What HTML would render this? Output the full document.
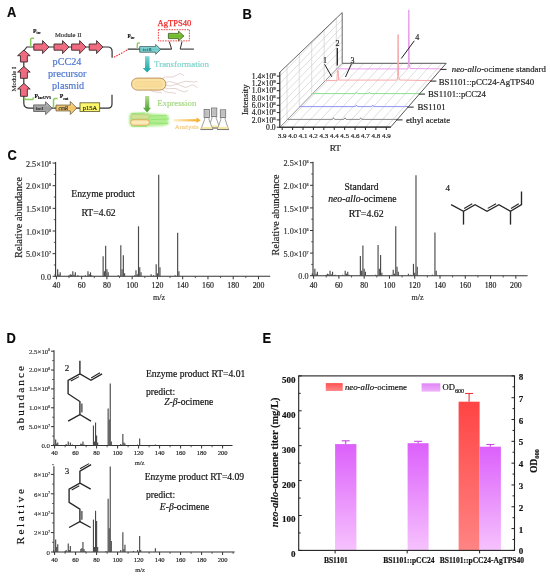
<!DOCTYPE html>
<html><head><meta charset="utf-8"><title>Figure</title>
<style>html,body{margin:0;padding:0;background:#fff;}svg{display:block;}</style>
</head><body>
<svg width="550" height="579" viewBox="0 0 550 579">
<text transform="translate(7.0,17.1) scale(0.9,1)" font-size="14.3" font-weight="bold" fill="#0a0a0a" font-family='"Liberation Sans", Arial, sans-serif' stroke="#0a0a0a" stroke-width="0.18">A</text>
<text transform="translate(242.6,19.4) scale(0.9,1)" font-size="14.3" font-weight="bold" fill="#0a0a0a" font-family='"Liberation Sans", Arial, sans-serif' stroke="#0a0a0a" stroke-width="0.18">B</text>
<text transform="translate(7.6,159.9) scale(0.9,1)" font-size="14.3" font-weight="bold" fill="#0a0a0a" font-family='"Liberation Sans", Arial, sans-serif' stroke="#0a0a0a" stroke-width="0.18">C</text>
<text transform="translate(6.4,342.9) scale(0.9,1)" font-size="14.3" font-weight="bold" fill="#0a0a0a" font-family='"Liberation Sans", Arial, sans-serif' stroke="#0a0a0a" stroke-width="0.18">D</text>
<text transform="translate(262.5,343.1) scale(0.9,1)" font-size="14.3" font-weight="bold" fill="#0a0a0a" font-family='"Liberation Sans", Arial, sans-serif' stroke="#0a0a0a" stroke-width="0.18">E</text>
<line x1="55.6" y1="162" x2="55.6" y2="276.8" stroke="#333" stroke-width="1.1" />
<line x1="55.6" y1="276.3" x2="270.2" y2="276.3" stroke="#333" stroke-width="1.1" />
<line x1="52.6" y1="276.3" x2="55.6" y2="276.3" stroke="#333" stroke-width="1" />
<line x1="53.8" y1="264.98" x2="55.6" y2="264.98" stroke="#333" stroke-width="0.8" />
<line x1="52.6" y1="253.65" x2="55.6" y2="253.65" stroke="#333" stroke-width="1" />
<line x1="53.8" y1="242.33" x2="55.6" y2="242.33" stroke="#333" stroke-width="0.8" />
<line x1="52.6" y1="231" x2="55.6" y2="231" stroke="#333" stroke-width="1" />
<line x1="53.8" y1="219.68" x2="55.6" y2="219.68" stroke="#333" stroke-width="0.8" />
<line x1="52.6" y1="208.35" x2="55.6" y2="208.35" stroke="#333" stroke-width="1" />
<line x1="53.8" y1="197.03" x2="55.6" y2="197.03" stroke="#333" stroke-width="0.8" />
<line x1="52.6" y1="185.7" x2="55.6" y2="185.7" stroke="#333" stroke-width="1" />
<line x1="53.8" y1="174.38" x2="55.6" y2="174.38" stroke="#333" stroke-width="0.8" />
<line x1="52.6" y1="163.05" x2="55.6" y2="163.05" stroke="#333" stroke-width="1" />
<line x1="56.4" y1="276.3" x2="56.4" y2="279.3" stroke="#333" stroke-width="1" />
<text x="56.4" y="287.8" font-size="7.8" fill="#222" stroke="#222" stroke-width="0.18" text-anchor="middle" font-weight="normal" font-style="normal" font-family='"Liberation Serif", "Times New Roman", serif' >40</text>
<line x1="69.03" y1="276.3" x2="69.03" y2="278.1" stroke="#333" stroke-width="0.8" />
<line x1="81.66" y1="276.3" x2="81.66" y2="279.3" stroke="#333" stroke-width="1" />
<text x="81.66" y="287.8" font-size="7.8" fill="#222" stroke="#222" stroke-width="0.18" text-anchor="middle" font-weight="normal" font-style="normal" font-family='"Liberation Serif", "Times New Roman", serif' >60</text>
<line x1="94.29" y1="276.3" x2="94.29" y2="278.1" stroke="#333" stroke-width="0.8" />
<line x1="106.92" y1="276.3" x2="106.92" y2="279.3" stroke="#333" stroke-width="1" />
<text x="106.92" y="287.8" font-size="7.8" fill="#222" stroke="#222" stroke-width="0.18" text-anchor="middle" font-weight="normal" font-style="normal" font-family='"Liberation Serif", "Times New Roman", serif' >80</text>
<line x1="119.55" y1="276.3" x2="119.55" y2="278.1" stroke="#333" stroke-width="0.8" />
<line x1="132.18" y1="276.3" x2="132.18" y2="279.3" stroke="#333" stroke-width="1" />
<text x="132.18" y="287.8" font-size="7.8" fill="#222" stroke="#222" stroke-width="0.18" text-anchor="middle" font-weight="normal" font-style="normal" font-family='"Liberation Serif", "Times New Roman", serif' >100</text>
<line x1="144.81" y1="276.3" x2="144.81" y2="278.1" stroke="#333" stroke-width="0.8" />
<line x1="157.44" y1="276.3" x2="157.44" y2="279.3" stroke="#333" stroke-width="1" />
<text x="157.44" y="287.8" font-size="7.8" fill="#222" stroke="#222" stroke-width="0.18" text-anchor="middle" font-weight="normal" font-style="normal" font-family='"Liberation Serif", "Times New Roman", serif' >120</text>
<line x1="170.07" y1="276.3" x2="170.07" y2="278.1" stroke="#333" stroke-width="0.8" />
<line x1="182.7" y1="276.3" x2="182.7" y2="279.3" stroke="#333" stroke-width="1" />
<text x="182.7" y="287.8" font-size="7.8" fill="#222" stroke="#222" stroke-width="0.18" text-anchor="middle" font-weight="normal" font-style="normal" font-family='"Liberation Serif", "Times New Roman", serif' >140</text>
<line x1="195.33" y1="276.3" x2="195.33" y2="278.1" stroke="#333" stroke-width="0.8" />
<line x1="207.96" y1="276.3" x2="207.96" y2="279.3" stroke="#333" stroke-width="1" />
<text x="207.96" y="287.8" font-size="7.8" fill="#222" stroke="#222" stroke-width="0.18" text-anchor="middle" font-weight="normal" font-style="normal" font-family='"Liberation Serif", "Times New Roman", serif' >160</text>
<line x1="220.59" y1="276.3" x2="220.59" y2="278.1" stroke="#333" stroke-width="0.8" />
<line x1="233.22" y1="276.3" x2="233.22" y2="279.3" stroke="#333" stroke-width="1" />
<text x="233.22" y="287.8" font-size="7.8" fill="#222" stroke="#222" stroke-width="0.18" text-anchor="middle" font-weight="normal" font-style="normal" font-family='"Liberation Serif", "Times New Roman", serif' >180</text>
<line x1="245.85" y1="276.3" x2="245.85" y2="278.1" stroke="#333" stroke-width="0.8" />
<line x1="258.48" y1="276.3" x2="258.48" y2="279.3" stroke="#333" stroke-width="1" />
<text x="258.48" y="287.8" font-size="7.8" fill="#222" stroke="#222" stroke-width="0.18" text-anchor="middle" font-weight="normal" font-style="normal" font-family='"Liberation Serif", "Times New Roman", serif' >200</text>
<text x="159" y="299.8" font-size="8" fill="#333" stroke="#333" stroke-width="0.18" text-anchor="middle" font-weight="normal" font-style="normal" font-family='"Liberation Serif", "Times New Roman", serif' >m/z</text>
<line x1="55.14" y1="276.3" x2="55.14" y2="273.8" stroke="#4a4a4a" stroke-width="1.15" />
<line x1="57.66" y1="276.3" x2="57.66" y2="269.3" stroke="#4a4a4a" stroke-width="1.15" />
<line x1="58.93" y1="276.3" x2="58.93" y2="274.3" stroke="#4a4a4a" stroke-width="1.15" />
<line x1="60.19" y1="276.3" x2="60.19" y2="272.3" stroke="#4a4a4a" stroke-width="1.15" />
<line x1="69.03" y1="276.3" x2="69.03" y2="275.3" stroke="#4a4a4a" stroke-width="1.15" />
<line x1="70.29" y1="276.3" x2="70.29" y2="274.3" stroke="#4a4a4a" stroke-width="1.15" />
<line x1="71.56" y1="276.3" x2="71.56" y2="274.8" stroke="#4a4a4a" stroke-width="1.15" />
<line x1="72.82" y1="276.3" x2="72.82" y2="271.3" stroke="#4a4a4a" stroke-width="1.15" />
<line x1="74.08" y1="276.3" x2="74.08" y2="274.8" stroke="#4a4a4a" stroke-width="1.15" />
<line x1="75.34" y1="276.3" x2="75.34" y2="272.3" stroke="#4a4a4a" stroke-width="1.15" />
<line x1="77.87" y1="276.3" x2="77.87" y2="275.3" stroke="#4a4a4a" stroke-width="1.15" />
<line x1="85.45" y1="276.3" x2="85.45" y2="275.3" stroke="#4a4a4a" stroke-width="1.15" />
<line x1="87.97" y1="276.3" x2="87.97" y2="271.3" stroke="#4a4a4a" stroke-width="1.15" />
<line x1="89.24" y1="276.3" x2="89.24" y2="274.3" stroke="#4a4a4a" stroke-width="1.15" />
<line x1="90.5" y1="276.3" x2="90.5" y2="272.3" stroke="#4a4a4a" stroke-width="1.15" />
<line x1="91.76" y1="276.3" x2="91.76" y2="275.3" stroke="#4a4a4a" stroke-width="1.15" />
<line x1="103.13" y1="276.3" x2="103.13" y2="256.3" stroke="#4a4a4a" stroke-width="1.15" />
<line x1="104.39" y1="276.3" x2="104.39" y2="271.3" stroke="#4a4a4a" stroke-width="1.15" />
<line x1="105.66" y1="276.3" x2="105.66" y2="245.8" stroke="#4a4a4a" stroke-width="1.15" />
<line x1="106.92" y1="276.3" x2="106.92" y2="269.3" stroke="#4a4a4a" stroke-width="1.15" />
<line x1="108.18" y1="276.3" x2="108.18" y2="272.3" stroke="#4a4a4a" stroke-width="1.15" />
<line x1="118.29" y1="276.3" x2="118.29" y2="275.3" stroke="#4a4a4a" stroke-width="1.15" />
<line x1="120.81" y1="276.3" x2="120.81" y2="245.3" stroke="#4a4a4a" stroke-width="1.15" />
<line x1="122.08" y1="276.3" x2="122.08" y2="269.3" stroke="#4a4a4a" stroke-width="1.15" />
<line x1="123.34" y1="276.3" x2="123.34" y2="255.3" stroke="#4a4a4a" stroke-width="1.15" />
<line x1="124.6" y1="276.3" x2="124.6" y2="273.3" stroke="#4a4a4a" stroke-width="1.15" />
<line x1="134.71" y1="276.3" x2="134.71" y2="275.3" stroke="#4a4a4a" stroke-width="1.15" />
<line x1="135.97" y1="276.3" x2="135.97" y2="270.3" stroke="#4a4a4a" stroke-width="1.15" />
<line x1="137.23" y1="276.3" x2="137.23" y2="274.3" stroke="#4a4a4a" stroke-width="1.15" />
<line x1="138.5" y1="276.3" x2="138.5" y2="226.3" stroke="#4a4a4a" stroke-width="1.15" />
<line x1="139.76" y1="276.3" x2="139.76" y2="267.3" stroke="#4a4a4a" stroke-width="1.15" />
<line x1="141.02" y1="276.3" x2="141.02" y2="272.3" stroke="#4a4a4a" stroke-width="1.15" />
<line x1="151.12" y1="276.3" x2="151.12" y2="274.3" stroke="#4a4a4a" stroke-width="1.15" />
<line x1="153.65" y1="276.3" x2="153.65" y2="275.3" stroke="#4a4a4a" stroke-width="1.15" />
<line x1="156.18" y1="276.3" x2="156.18" y2="264.3" stroke="#4a4a4a" stroke-width="1.15" />
<line x1="157.44" y1="276.3" x2="157.44" y2="273.3" stroke="#4a4a4a" stroke-width="1.15" />
<line x1="158.7" y1="276.3" x2="158.7" y2="174.8" stroke="#4a4a4a" stroke-width="1.15" />
<line x1="159.97" y1="276.3" x2="159.97" y2="267.3" stroke="#4a4a4a" stroke-width="1.15" />
<line x1="175.12" y1="276.3" x2="175.12" y2="275.3" stroke="#4a4a4a" stroke-width="1.15" />
<line x1="177.65" y1="276.3" x2="177.65" y2="232.7" stroke="#4a4a4a" stroke-width="1.15" />
<line x1="178.91" y1="276.3" x2="178.91" y2="271.3" stroke="#4a4a4a" stroke-width="1.15" />
<text x="51" y="280" font-size="8.2" fill="#333" stroke="#333" stroke-width="0.18" text-anchor="end" font-weight="normal" font-style="normal" font-family='"Liberation Serif", "Times New Roman", serif' >0.0</text>
<text x="51" y="257.35" font-size="8.2" fill="#333" text-anchor="end" font-family='"Liberation Serif", "Times New Roman", serif' stroke="#333" stroke-width="0.18">5.0×10<tspan font-size="4.10" dy="-2.95">7</tspan></text>
<text x="51" y="234.7" font-size="8.2" fill="#333" text-anchor="end" font-family='"Liberation Serif", "Times New Roman", serif' stroke="#333" stroke-width="0.18">1.0×10<tspan font-size="4.10" dy="-2.95">8</tspan></text>
<text x="51" y="212.05" font-size="8.2" fill="#333" text-anchor="end" font-family='"Liberation Serif", "Times New Roman", serif' stroke="#333" stroke-width="0.18">1.5×10<tspan font-size="4.10" dy="-2.95">8</tspan></text>
<text x="51" y="189.4" font-size="8.2" fill="#333" text-anchor="end" font-family='"Liberation Serif", "Times New Roman", serif' stroke="#333" stroke-width="0.18">2.0×10<tspan font-size="4.10" dy="-2.95">8</tspan></text>
<text x="51" y="166.75" font-size="8.2" fill="#333" text-anchor="end" font-family='"Liberation Serif", "Times New Roman", serif' stroke="#333" stroke-width="0.18">2.5×10<tspan font-size="4.10" dy="-2.95">8</tspan></text>
<text x="0" y="0" font-size="10.3" fill="#222" stroke="#222" stroke-width="0.18" text-anchor="middle" font-weight="normal" font-style="normal" font-family='"Liberation Serif", "Times New Roman", serif' transform="translate(22.2,217.5) rotate(-90)">Relative  abundance</text>
<text x="71.3" y="196.6" font-size="9.7" fill="#111" stroke="#111" stroke-width="0.18" text-anchor="start" font-weight="normal" font-style="normal" font-family='"Liberation Serif", "Times New Roman", serif' >Enzyme product</text>
<text x="81.4" y="215.6" font-size="9.7" fill="#111" stroke="#111" stroke-width="0.18" text-anchor="start" font-weight="normal" font-style="normal" font-family='"Liberation Serif", "Times New Roman", serif' >RT=4.62</text>
<line x1="313" y1="161.7" x2="313" y2="276.2" stroke="#333" stroke-width="1.1" />
<line x1="313" y1="275.7" x2="527.6" y2="275.7" stroke="#333" stroke-width="1.1" />
<line x1="310" y1="275.7" x2="313" y2="275.7" stroke="#333" stroke-width="1" />
<line x1="311.2" y1="264.4" x2="313" y2="264.4" stroke="#333" stroke-width="0.8" />
<line x1="310" y1="253.1" x2="313" y2="253.1" stroke="#333" stroke-width="1" />
<line x1="311.2" y1="241.8" x2="313" y2="241.8" stroke="#333" stroke-width="0.8" />
<line x1="310" y1="230.5" x2="313" y2="230.5" stroke="#333" stroke-width="1" />
<line x1="311.2" y1="219.2" x2="313" y2="219.2" stroke="#333" stroke-width="0.8" />
<line x1="310" y1="207.9" x2="313" y2="207.9" stroke="#333" stroke-width="1" />
<line x1="311.2" y1="196.6" x2="313" y2="196.6" stroke="#333" stroke-width="0.8" />
<line x1="310" y1="185.3" x2="313" y2="185.3" stroke="#333" stroke-width="1" />
<line x1="311.2" y1="174" x2="313" y2="174" stroke="#333" stroke-width="0.8" />
<line x1="310" y1="162.7" x2="313" y2="162.7" stroke="#333" stroke-width="1" />
<line x1="313.6" y1="275.7" x2="313.6" y2="278.7" stroke="#333" stroke-width="1" />
<text x="313.6" y="287.6" font-size="7.8" fill="#222" stroke="#222" stroke-width="0.18" text-anchor="middle" font-weight="normal" font-style="normal" font-family='"Liberation Serif", "Times New Roman", serif' >40</text>
<line x1="326.24" y1="275.7" x2="326.24" y2="277.5" stroke="#333" stroke-width="0.8" />
<line x1="338.88" y1="275.7" x2="338.88" y2="278.7" stroke="#333" stroke-width="1" />
<text x="338.88" y="287.6" font-size="7.8" fill="#222" stroke="#222" stroke-width="0.18" text-anchor="middle" font-weight="normal" font-style="normal" font-family='"Liberation Serif", "Times New Roman", serif' >60</text>
<line x1="351.52" y1="275.7" x2="351.52" y2="277.5" stroke="#333" stroke-width="0.8" />
<line x1="364.16" y1="275.7" x2="364.16" y2="278.7" stroke="#333" stroke-width="1" />
<text x="364.16" y="287.6" font-size="7.8" fill="#222" stroke="#222" stroke-width="0.18" text-anchor="middle" font-weight="normal" font-style="normal" font-family='"Liberation Serif", "Times New Roman", serif' >80</text>
<line x1="376.8" y1="275.7" x2="376.8" y2="277.5" stroke="#333" stroke-width="0.8" />
<line x1="389.44" y1="275.7" x2="389.44" y2="278.7" stroke="#333" stroke-width="1" />
<text x="389.44" y="287.6" font-size="7.8" fill="#222" stroke="#222" stroke-width="0.18" text-anchor="middle" font-weight="normal" font-style="normal" font-family='"Liberation Serif", "Times New Roman", serif' >100</text>
<line x1="402.08" y1="275.7" x2="402.08" y2="277.5" stroke="#333" stroke-width="0.8" />
<line x1="414.72" y1="275.7" x2="414.72" y2="278.7" stroke="#333" stroke-width="1" />
<text x="414.72" y="287.6" font-size="7.8" fill="#222" stroke="#222" stroke-width="0.18" text-anchor="middle" font-weight="normal" font-style="normal" font-family='"Liberation Serif", "Times New Roman", serif' >120</text>
<line x1="427.36" y1="275.7" x2="427.36" y2="277.5" stroke="#333" stroke-width="0.8" />
<line x1="440" y1="275.7" x2="440" y2="278.7" stroke="#333" stroke-width="1" />
<text x="440" y="287.6" font-size="7.8" fill="#222" stroke="#222" stroke-width="0.18" text-anchor="middle" font-weight="normal" font-style="normal" font-family='"Liberation Serif", "Times New Roman", serif' >140</text>
<line x1="452.64" y1="275.7" x2="452.64" y2="277.5" stroke="#333" stroke-width="0.8" />
<line x1="465.28" y1="275.7" x2="465.28" y2="278.7" stroke="#333" stroke-width="1" />
<text x="465.28" y="287.6" font-size="7.8" fill="#222" stroke="#222" stroke-width="0.18" text-anchor="middle" font-weight="normal" font-style="normal" font-family='"Liberation Serif", "Times New Roman", serif' >160</text>
<line x1="477.92" y1="275.7" x2="477.92" y2="277.5" stroke="#333" stroke-width="0.8" />
<line x1="490.56" y1="275.7" x2="490.56" y2="278.7" stroke="#333" stroke-width="1" />
<text x="490.56" y="287.6" font-size="7.8" fill="#222" stroke="#222" stroke-width="0.18" text-anchor="middle" font-weight="normal" font-style="normal" font-family='"Liberation Serif", "Times New Roman", serif' >180</text>
<line x1="503.2" y1="275.7" x2="503.2" y2="277.5" stroke="#333" stroke-width="0.8" />
<line x1="515.84" y1="275.7" x2="515.84" y2="278.7" stroke="#333" stroke-width="1" />
<text x="515.84" y="287.6" font-size="7.8" fill="#222" stroke="#222" stroke-width="0.18" text-anchor="middle" font-weight="normal" font-style="normal" font-family='"Liberation Serif", "Times New Roman", serif' >200</text>
<text x="417.5" y="299.6" font-size="8" fill="#333" stroke="#333" stroke-width="0.18" text-anchor="middle" font-weight="normal" font-style="normal" font-family='"Liberation Serif", "Times New Roman", serif' >m/z</text>
<line x1="312.34" y1="275.7" x2="312.34" y2="273.22" stroke="#4a4a4a" stroke-width="1.15" />
<line x1="314.86" y1="275.7" x2="314.86" y2="268.77" stroke="#4a4a4a" stroke-width="1.15" />
<line x1="316.13" y1="275.7" x2="316.13" y2="273.72" stroke="#4a4a4a" stroke-width="1.15" />
<line x1="317.39" y1="275.7" x2="317.39" y2="271.74" stroke="#4a4a4a" stroke-width="1.15" />
<line x1="326.24" y1="275.7" x2="326.24" y2="274.71" stroke="#4a4a4a" stroke-width="1.15" />
<line x1="327.5" y1="275.7" x2="327.5" y2="273.72" stroke="#4a4a4a" stroke-width="1.15" />
<line x1="328.77" y1="275.7" x2="328.77" y2="274.21" stroke="#4a4a4a" stroke-width="1.15" />
<line x1="330.03" y1="275.7" x2="330.03" y2="270.75" stroke="#4a4a4a" stroke-width="1.15" />
<line x1="331.3" y1="275.7" x2="331.3" y2="274.21" stroke="#4a4a4a" stroke-width="1.15" />
<line x1="332.56" y1="275.7" x2="332.56" y2="271.74" stroke="#4a4a4a" stroke-width="1.15" />
<line x1="335.09" y1="275.7" x2="335.09" y2="274.71" stroke="#4a4a4a" stroke-width="1.15" />
<line x1="342.67" y1="275.7" x2="342.67" y2="274.71" stroke="#4a4a4a" stroke-width="1.15" />
<line x1="345.2" y1="275.7" x2="345.2" y2="270.75" stroke="#4a4a4a" stroke-width="1.15" />
<line x1="346.46" y1="275.7" x2="346.46" y2="273.72" stroke="#4a4a4a" stroke-width="1.15" />
<line x1="347.73" y1="275.7" x2="347.73" y2="271.74" stroke="#4a4a4a" stroke-width="1.15" />
<line x1="348.99" y1="275.7" x2="348.99" y2="274.71" stroke="#4a4a4a" stroke-width="1.15" />
<line x1="360.37" y1="275.7" x2="360.37" y2="255.9" stroke="#4a4a4a" stroke-width="1.15" />
<line x1="361.63" y1="275.7" x2="361.63" y2="270.75" stroke="#4a4a4a" stroke-width="1.15" />
<line x1="362.9" y1="275.7" x2="362.9" y2="245.5" stroke="#4a4a4a" stroke-width="1.15" />
<line x1="364.16" y1="275.7" x2="364.16" y2="268.77" stroke="#4a4a4a" stroke-width="1.15" />
<line x1="365.42" y1="275.7" x2="365.42" y2="271.74" stroke="#4a4a4a" stroke-width="1.15" />
<line x1="375.54" y1="275.7" x2="375.54" y2="274.71" stroke="#4a4a4a" stroke-width="1.15" />
<line x1="378.06" y1="275.7" x2="378.06" y2="245.01" stroke="#4a4a4a" stroke-width="1.15" />
<line x1="379.33" y1="275.7" x2="379.33" y2="268.77" stroke="#4a4a4a" stroke-width="1.15" />
<line x1="380.59" y1="275.7" x2="380.59" y2="254.91" stroke="#4a4a4a" stroke-width="1.15" />
<line x1="381.86" y1="275.7" x2="381.86" y2="272.73" stroke="#4a4a4a" stroke-width="1.15" />
<line x1="391.97" y1="275.7" x2="391.97" y2="274.71" stroke="#4a4a4a" stroke-width="1.15" />
<line x1="393.23" y1="275.7" x2="393.23" y2="269.76" stroke="#4a4a4a" stroke-width="1.15" />
<line x1="394.5" y1="275.7" x2="394.5" y2="273.72" stroke="#4a4a4a" stroke-width="1.15" />
<line x1="395.76" y1="275.7" x2="395.76" y2="226.2" stroke="#4a4a4a" stroke-width="1.15" />
<line x1="397.02" y1="275.7" x2="397.02" y2="266.79" stroke="#4a4a4a" stroke-width="1.15" />
<line x1="398.29" y1="275.7" x2="398.29" y2="271.74" stroke="#4a4a4a" stroke-width="1.15" />
<line x1="408.4" y1="275.7" x2="408.4" y2="273.72" stroke="#4a4a4a" stroke-width="1.15" />
<line x1="410.93" y1="275.7" x2="410.93" y2="274.71" stroke="#4a4a4a" stroke-width="1.15" />
<line x1="413.46" y1="275.7" x2="413.46" y2="263.82" stroke="#4a4a4a" stroke-width="1.15" />
<line x1="414.72" y1="275.7" x2="414.72" y2="272.73" stroke="#4a4a4a" stroke-width="1.15" />
<line x1="415.98" y1="275.7" x2="415.98" y2="175.21" stroke="#4a4a4a" stroke-width="1.15" />
<line x1="417.25" y1="275.7" x2="417.25" y2="266.79" stroke="#4a4a4a" stroke-width="1.15" />
<line x1="432.42" y1="275.7" x2="432.42" y2="274.71" stroke="#4a4a4a" stroke-width="1.15" />
<line x1="434.94" y1="275.7" x2="434.94" y2="232.54" stroke="#4a4a4a" stroke-width="1.15" />
<line x1="436.21" y1="275.7" x2="436.21" y2="270.75" stroke="#4a4a4a" stroke-width="1.15" />
<text x="308.6" y="279.4" font-size="8.2" fill="#333" stroke="#333" stroke-width="0.18" text-anchor="end" font-weight="normal" font-style="normal" font-family='"Liberation Serif", "Times New Roman", serif' >0.0</text>
<text x="308.6" y="256.8" font-size="8.2" fill="#333" text-anchor="end" font-family='"Liberation Serif", "Times New Roman", serif' stroke="#333" stroke-width="0.18">5.0×10<tspan font-size="4.10" dy="-2.95">7</tspan></text>
<text x="308.6" y="234.2" font-size="8.2" fill="#333" text-anchor="end" font-family='"Liberation Serif", "Times New Roman", serif' stroke="#333" stroke-width="0.18">1.0×10<tspan font-size="4.10" dy="-2.95">8</tspan></text>
<text x="308.6" y="211.6" font-size="8.2" fill="#333" text-anchor="end" font-family='"Liberation Serif", "Times New Roman", serif' stroke="#333" stroke-width="0.18">1.5×10<tspan font-size="4.10" dy="-2.95">8</tspan></text>
<text x="308.6" y="189" font-size="8.2" fill="#333" text-anchor="end" font-family='"Liberation Serif", "Times New Roman", serif' stroke="#333" stroke-width="0.18">2.0×10<tspan font-size="4.10" dy="-2.95">8</tspan></text>
<text x="308.6" y="166.4" font-size="8.2" fill="#333" text-anchor="end" font-family='"Liberation Serif", "Times New Roman", serif' stroke="#333" stroke-width="0.18">2.5×10<tspan font-size="4.10" dy="-2.95">8</tspan></text>
<text x="0" y="0" font-size="10.3" fill="#222" stroke="#222" stroke-width="0.18" text-anchor="middle" font-weight="normal" font-style="normal" font-family='"Liberation Serif", "Times New Roman", serif' transform="translate(279.3,215) rotate(-90)">Relative  abundance</text>
<text x="361.5" y="189.6" font-size="9.6" fill="#111" stroke="#111" stroke-width="0.18" text-anchor="middle" font-weight="normal" font-style="normal" font-family='"Liberation Serif", "Times New Roman", serif' >Standard</text>
<text x="362.4" y="202.1" font-size="9.7" fill="#111" text-anchor="middle" font-family='"Liberation Serif", "Times New Roman", serif' stroke="#111" stroke-width="0.18"><tspan font-style="italic">neo-allo</tspan>-ocimene</text>
<text x="366.3" y="216.6" font-size="9.9" fill="#111" stroke="#111" stroke-width="0.18" text-anchor="middle" font-weight="normal" font-style="normal" font-family='"Liberation Serif", "Times New Roman", serif' >RT=4.62</text>
<text x="445.4" y="190.9" font-size="9" fill="#222" stroke="#222" stroke-width="0.18" text-anchor="start" font-weight="normal" font-style="normal" font-family='"Liberation Serif", "Times New Roman", serif' >4</text>
<polyline points="451.1,204.7 463.5,211.3 475.1,204.7 487,211.3 498.9,204.7 510.5,211.3 521.5,204.7 521.5,191.4" fill="none" stroke="#262626" stroke-width="1.35" />
<line x1="463.5" y1="211.3" x2="463.5" y2="224.6" stroke="#262626" stroke-width="1.35" />
<line x1="510.5" y1="211.3" x2="510.5" y2="224.6" stroke="#262626" stroke-width="1.35" />
<line x1="464.15" y1="208.4" x2="472.27" y2="203.78" stroke="#262626" stroke-width="1.1" />
<line x1="487.72" y1="208.39" x2="496.05" y2="203.77" stroke="#262626" stroke-width="1.1" />
<line x1="511.02" y1="208.42" x2="518.72" y2="203.8" stroke="#262626" stroke-width="1.1" />
<line x1="54" y1="350.3" x2="54" y2="446" stroke="#333" stroke-width="1.1" />
<line x1="54" y1="445.5" x2="232.5" y2="445.5" stroke="#333" stroke-width="1.1" />
<line x1="51" y1="445.5" x2="54" y2="445.5" stroke="#333" stroke-width="1" />
<line x1="52.2" y1="436.07" x2="54" y2="436.07" stroke="#333" stroke-width="0.8" />
<line x1="51" y1="426.64" x2="54" y2="426.64" stroke="#333" stroke-width="1" />
<line x1="52.2" y1="417.21" x2="54" y2="417.21" stroke="#333" stroke-width="0.8" />
<line x1="51" y1="407.78" x2="54" y2="407.78" stroke="#333" stroke-width="1" />
<line x1="52.2" y1="398.35" x2="54" y2="398.35" stroke="#333" stroke-width="0.8" />
<line x1="51" y1="388.92" x2="54" y2="388.92" stroke="#333" stroke-width="1" />
<line x1="52.2" y1="379.49" x2="54" y2="379.49" stroke="#333" stroke-width="0.8" />
<line x1="51" y1="370.06" x2="54" y2="370.06" stroke="#333" stroke-width="1" />
<line x1="52.2" y1="360.63" x2="54" y2="360.63" stroke="#333" stroke-width="0.8" />
<line x1="51" y1="351.2" x2="54" y2="351.2" stroke="#333" stroke-width="1" />
<line x1="54.6" y1="445.5" x2="54.6" y2="448.5" stroke="#333" stroke-width="1" />
<text x="54.6" y="455" font-size="6.6" fill="#222" stroke="#222" stroke-width="0.18" text-anchor="middle" font-weight="normal" font-style="normal" font-family='"Liberation Serif", "Times New Roman", serif' >40</text>
<line x1="65.1" y1="445.5" x2="65.1" y2="447.3" stroke="#333" stroke-width="0.8" />
<line x1="75.6" y1="445.5" x2="75.6" y2="448.5" stroke="#333" stroke-width="1" />
<text x="75.6" y="455" font-size="6.6" fill="#222" stroke="#222" stroke-width="0.18" text-anchor="middle" font-weight="normal" font-style="normal" font-family='"Liberation Serif", "Times New Roman", serif' >60</text>
<line x1="86.1" y1="445.5" x2="86.1" y2="447.3" stroke="#333" stroke-width="0.8" />
<line x1="96.6" y1="445.5" x2="96.6" y2="448.5" stroke="#333" stroke-width="1" />
<text x="96.6" y="455" font-size="6.6" fill="#222" stroke="#222" stroke-width="0.18" text-anchor="middle" font-weight="normal" font-style="normal" font-family='"Liberation Serif", "Times New Roman", serif' >80</text>
<line x1="107.1" y1="445.5" x2="107.1" y2="447.3" stroke="#333" stroke-width="0.8" />
<line x1="117.6" y1="445.5" x2="117.6" y2="448.5" stroke="#333" stroke-width="1" />
<text x="117.6" y="455" font-size="6.6" fill="#222" stroke="#222" stroke-width="0.18" text-anchor="middle" font-weight="normal" font-style="normal" font-family='"Liberation Serif", "Times New Roman", serif' >100</text>
<line x1="128.1" y1="445.5" x2="128.1" y2="447.3" stroke="#333" stroke-width="0.8" />
<line x1="138.6" y1="445.5" x2="138.6" y2="448.5" stroke="#333" stroke-width="1" />
<text x="138.6" y="455" font-size="6.6" fill="#222" stroke="#222" stroke-width="0.18" text-anchor="middle" font-weight="normal" font-style="normal" font-family='"Liberation Serif", "Times New Roman", serif' >120</text>
<line x1="149.1" y1="445.5" x2="149.1" y2="447.3" stroke="#333" stroke-width="0.8" />
<line x1="159.6" y1="445.5" x2="159.6" y2="448.5" stroke="#333" stroke-width="1" />
<text x="159.6" y="455" font-size="6.6" fill="#222" stroke="#222" stroke-width="0.18" text-anchor="middle" font-weight="normal" font-style="normal" font-family='"Liberation Serif", "Times New Roman", serif' >140</text>
<line x1="170.1" y1="445.5" x2="170.1" y2="447.3" stroke="#333" stroke-width="0.8" />
<line x1="180.6" y1="445.5" x2="180.6" y2="448.5" stroke="#333" stroke-width="1" />
<text x="180.6" y="455" font-size="6.6" fill="#222" stroke="#222" stroke-width="0.18" text-anchor="middle" font-weight="normal" font-style="normal" font-family='"Liberation Serif", "Times New Roman", serif' >160</text>
<line x1="191.1" y1="445.5" x2="191.1" y2="447.3" stroke="#333" stroke-width="0.8" />
<line x1="201.6" y1="445.5" x2="201.6" y2="448.5" stroke="#333" stroke-width="1" />
<text x="201.6" y="455" font-size="6.6" fill="#222" stroke="#222" stroke-width="0.18" text-anchor="middle" font-weight="normal" font-style="normal" font-family='"Liberation Serif", "Times New Roman", serif' >180</text>
<line x1="212.1" y1="445.5" x2="212.1" y2="447.3" stroke="#333" stroke-width="0.8" />
<line x1="222.6" y1="445.5" x2="222.6" y2="448.5" stroke="#333" stroke-width="1" />
<text x="222.6" y="455" font-size="6.6" fill="#222" stroke="#222" stroke-width="0.18" text-anchor="middle" font-weight="normal" font-style="normal" font-family='"Liberation Serif", "Times New Roman", serif' >200</text>
<text x="139.5" y="464.6" font-size="6.5" fill="#333" stroke="#333" stroke-width="0.18" text-anchor="middle" font-weight="normal" font-style="normal" font-family='"Liberation Serif", "Times New Roman", serif' >m/z</text>
<line x1="53.55" y1="445.5" x2="53.55" y2="444" stroke="#4a4a4a" stroke-width="1.15" />
<line x1="55.65" y1="445.5" x2="55.65" y2="439.5" stroke="#4a4a4a" stroke-width="1.15" />
<line x1="56.7" y1="445.5" x2="56.7" y2="443.5" stroke="#4a4a4a" stroke-width="1.15" />
<line x1="57.75" y1="445.5" x2="57.75" y2="442.5" stroke="#4a4a4a" stroke-width="1.15" />
<line x1="66.15" y1="445.5" x2="66.15" y2="444" stroke="#4a4a4a" stroke-width="1.15" />
<line x1="68.25" y1="445.5" x2="68.25" y2="441.5" stroke="#4a4a4a" stroke-width="1.15" />
<line x1="70.35" y1="445.5" x2="70.35" y2="442.5" stroke="#4a4a4a" stroke-width="1.15" />
<line x1="72.45" y1="445.5" x2="72.45" y2="444.5" stroke="#4a4a4a" stroke-width="1.15" />
<line x1="80.85" y1="445.5" x2="80.85" y2="443.5" stroke="#4a4a4a" stroke-width="1.15" />
<line x1="81.9" y1="445.5" x2="81.9" y2="444" stroke="#4a4a4a" stroke-width="1.15" />
<line x1="82.95" y1="445.5" x2="82.95" y2="441.5" stroke="#4a4a4a" stroke-width="1.15" />
<line x1="84" y1="445.5" x2="84" y2="444.5" stroke="#4a4a4a" stroke-width="1.15" />
<line x1="93.45" y1="445.5" x2="93.45" y2="425.5" stroke="#4a4a4a" stroke-width="1.15" />
<line x1="94.5" y1="445.5" x2="94.5" y2="441.5" stroke="#4a4a4a" stroke-width="1.15" />
<line x1="95.55" y1="445.5" x2="95.55" y2="422.5" stroke="#4a4a4a" stroke-width="1.15" />
<line x1="96.6" y1="445.5" x2="96.6" y2="435.5" stroke="#4a4a4a" stroke-width="1.15" />
<line x1="97.65" y1="445.5" x2="97.65" y2="442.5" stroke="#4a4a4a" stroke-width="1.15" />
<line x1="108.15" y1="445.5" x2="108.15" y2="408.5" stroke="#4a4a4a" stroke-width="1.15" />
<line x1="109.2" y1="445.5" x2="109.2" y2="419.5" stroke="#4a4a4a" stroke-width="1.15" />
<line x1="110.25" y1="445.5" x2="110.25" y2="383.5" stroke="#4a4a4a" stroke-width="1.15" />
<line x1="111.3" y1="445.5" x2="111.3" y2="441.5" stroke="#4a4a4a" stroke-width="1.15" />
<line x1="120.75" y1="445.5" x2="120.75" y2="444" stroke="#4a4a4a" stroke-width="1.15" />
<line x1="122.85" y1="445.5" x2="122.85" y2="434" stroke="#4a4a4a" stroke-width="1.15" />
<line x1="123.9" y1="445.5" x2="123.9" y2="442.5" stroke="#4a4a4a" stroke-width="1.15" />
<line x1="124.95" y1="445.5" x2="124.95" y2="443.5" stroke="#4a4a4a" stroke-width="1.15" />
<line x1="137.55" y1="445.5" x2="137.55" y2="444.5" stroke="#4a4a4a" stroke-width="1.15" />
<line x1="139.65" y1="445.5" x2="139.65" y2="438.5" stroke="#4a4a4a" stroke-width="1.15" />
<line x1="155.4" y1="445.5" x2="155.4" y2="444.5" stroke="#4a4a4a" stroke-width="1.15" />
<text x="50" y="447.9" font-size="6.9" fill="#333" stroke="#333" stroke-width="0.18" text-anchor="end" font-weight="normal" font-style="normal" font-family='"Liberation Serif", "Times New Roman", serif' >0.0</text>
<text x="50" y="429.04" font-size="6.9" fill="#333" text-anchor="end" font-family='"Liberation Serif", "Times New Roman", serif' stroke="#333" stroke-width="0.18">5.0×10<tspan font-size="3.45" dy="-2.48">7</tspan></text>
<text x="50" y="410.18" font-size="6.9" fill="#333" text-anchor="end" font-family='"Liberation Serif", "Times New Roman", serif' stroke="#333" stroke-width="0.18">1.0×10<tspan font-size="3.45" dy="-2.48">8</tspan></text>
<text x="50" y="391.32" font-size="6.9" fill="#333" text-anchor="end" font-family='"Liberation Serif", "Times New Roman", serif' stroke="#333" stroke-width="0.18">1.5×10<tspan font-size="3.45" dy="-2.48">8</tspan></text>
<text x="50" y="372.46" font-size="6.9" fill="#333" text-anchor="end" font-family='"Liberation Serif", "Times New Roman", serif' stroke="#333" stroke-width="0.18">2.0×10<tspan font-size="3.45" dy="-2.48">8</tspan></text>
<text x="50" y="353.6" font-size="6.9" fill="#333" text-anchor="end" font-family='"Liberation Serif", "Times New Roman", serif' stroke="#333" stroke-width="0.18">2.5×10<tspan font-size="3.45" dy="-2.48">8</tspan></text>
<line x1="53.9" y1="466.2" x2="53.9" y2="552.5" stroke="#333" stroke-width="1.1" />
<line x1="53.9" y1="552" x2="234.6" y2="552" stroke="#333" stroke-width="1.1" />
<line x1="50.9" y1="552" x2="53.9" y2="552" stroke="#333" stroke-width="1" />
<line x1="52.1" y1="542.3" x2="53.9" y2="542.3" stroke="#333" stroke-width="0.8" />
<line x1="50.9" y1="532.6" x2="53.9" y2="532.6" stroke="#333" stroke-width="1" />
<line x1="52.1" y1="522.9" x2="53.9" y2="522.9" stroke="#333" stroke-width="0.8" />
<line x1="50.9" y1="513.2" x2="53.9" y2="513.2" stroke="#333" stroke-width="1" />
<line x1="52.1" y1="503.5" x2="53.9" y2="503.5" stroke="#333" stroke-width="0.8" />
<line x1="50.9" y1="493.8" x2="53.9" y2="493.8" stroke="#333" stroke-width="1" />
<line x1="52.1" y1="484.1" x2="53.9" y2="484.1" stroke="#333" stroke-width="0.8" />
<line x1="50.9" y1="474.4" x2="53.9" y2="474.4" stroke="#333" stroke-width="1" />
<line x1="52.1" y1="464.7" x2="53.9" y2="464.7" stroke="#333" stroke-width="0.8" />
<line x1="54.6" y1="552" x2="54.6" y2="555" stroke="#333" stroke-width="1" />
<text x="54.6" y="561.5" font-size="6.6" fill="#222" stroke="#222" stroke-width="0.18" text-anchor="middle" font-weight="normal" font-style="normal" font-family='"Liberation Serif", "Times New Roman", serif' >40</text>
<line x1="65.1" y1="552" x2="65.1" y2="553.8" stroke="#333" stroke-width="0.8" />
<line x1="75.6" y1="552" x2="75.6" y2="555" stroke="#333" stroke-width="1" />
<text x="75.6" y="561.5" font-size="6.6" fill="#222" stroke="#222" stroke-width="0.18" text-anchor="middle" font-weight="normal" font-style="normal" font-family='"Liberation Serif", "Times New Roman", serif' >60</text>
<line x1="86.1" y1="552" x2="86.1" y2="553.8" stroke="#333" stroke-width="0.8" />
<line x1="96.6" y1="552" x2="96.6" y2="555" stroke="#333" stroke-width="1" />
<text x="96.6" y="561.5" font-size="6.6" fill="#222" stroke="#222" stroke-width="0.18" text-anchor="middle" font-weight="normal" font-style="normal" font-family='"Liberation Serif", "Times New Roman", serif' >80</text>
<line x1="107.1" y1="552" x2="107.1" y2="553.8" stroke="#333" stroke-width="0.8" />
<line x1="117.6" y1="552" x2="117.6" y2="555" stroke="#333" stroke-width="1" />
<text x="117.6" y="561.5" font-size="6.6" fill="#222" stroke="#222" stroke-width="0.18" text-anchor="middle" font-weight="normal" font-style="normal" font-family='"Liberation Serif", "Times New Roman", serif' >100</text>
<line x1="128.1" y1="552" x2="128.1" y2="553.8" stroke="#333" stroke-width="0.8" />
<line x1="138.6" y1="552" x2="138.6" y2="555" stroke="#333" stroke-width="1" />
<text x="138.6" y="561.5" font-size="6.6" fill="#222" stroke="#222" stroke-width="0.18" text-anchor="middle" font-weight="normal" font-style="normal" font-family='"Liberation Serif", "Times New Roman", serif' >120</text>
<line x1="149.1" y1="552" x2="149.1" y2="553.8" stroke="#333" stroke-width="0.8" />
<line x1="159.6" y1="552" x2="159.6" y2="555" stroke="#333" stroke-width="1" />
<text x="159.6" y="561.5" font-size="6.6" fill="#222" stroke="#222" stroke-width="0.18" text-anchor="middle" font-weight="normal" font-style="normal" font-family='"Liberation Serif", "Times New Roman", serif' >140</text>
<line x1="170.1" y1="552" x2="170.1" y2="553.8" stroke="#333" stroke-width="0.8" />
<line x1="180.6" y1="552" x2="180.6" y2="555" stroke="#333" stroke-width="1" />
<text x="180.6" y="561.5" font-size="6.6" fill="#222" stroke="#222" stroke-width="0.18" text-anchor="middle" font-weight="normal" font-style="normal" font-family='"Liberation Serif", "Times New Roman", serif' >160</text>
<line x1="191.1" y1="552" x2="191.1" y2="553.8" stroke="#333" stroke-width="0.8" />
<line x1="201.6" y1="552" x2="201.6" y2="555" stroke="#333" stroke-width="1" />
<text x="201.6" y="561.5" font-size="6.6" fill="#222" stroke="#222" stroke-width="0.18" text-anchor="middle" font-weight="normal" font-style="normal" font-family='"Liberation Serif", "Times New Roman", serif' >180</text>
<line x1="212.1" y1="552" x2="212.1" y2="553.8" stroke="#333" stroke-width="0.8" />
<line x1="222.6" y1="552" x2="222.6" y2="555" stroke="#333" stroke-width="1" />
<text x="222.6" y="561.5" font-size="6.6" fill="#222" stroke="#222" stroke-width="0.18" text-anchor="middle" font-weight="normal" font-style="normal" font-family='"Liberation Serif", "Times New Roman", serif' >200</text>
<line x1="233.1" y1="552" x2="233.1" y2="553.8" stroke="#333" stroke-width="0.8" />
<text x="140" y="572" font-size="6.5" fill="#333" stroke="#333" stroke-width="0.18" text-anchor="middle" font-weight="normal" font-style="normal" font-family='"Liberation Serif", "Times New Roman", serif' >m/z</text>
<line x1="53.55" y1="552" x2="53.55" y2="550" stroke="#4a4a4a" stroke-width="1.15" />
<line x1="55.65" y1="552" x2="55.65" y2="539.5" stroke="#4a4a4a" stroke-width="1.15" />
<line x1="56.7" y1="552" x2="56.7" y2="547" stroke="#4a4a4a" stroke-width="1.15" />
<line x1="57.75" y1="552" x2="57.75" y2="544.3" stroke="#4a4a4a" stroke-width="1.15" />
<line x1="65.1" y1="552" x2="65.1" y2="551" stroke="#4a4a4a" stroke-width="1.15" />
<line x1="66.15" y1="552" x2="66.15" y2="550" stroke="#4a4a4a" stroke-width="1.15" />
<line x1="68.25" y1="552" x2="68.25" y2="543.6" stroke="#4a4a4a" stroke-width="1.15" />
<line x1="69.3" y1="552" x2="69.3" y2="550" stroke="#4a4a4a" stroke-width="1.15" />
<line x1="70.35" y1="552" x2="70.35" y2="546" stroke="#4a4a4a" stroke-width="1.15" />
<line x1="80.85" y1="552" x2="80.85" y2="549" stroke="#4a4a4a" stroke-width="1.15" />
<line x1="81.9" y1="552" x2="81.9" y2="548" stroke="#4a4a4a" stroke-width="1.15" />
<line x1="82.95" y1="552" x2="82.95" y2="542" stroke="#4a4a4a" stroke-width="1.15" />
<line x1="84" y1="552" x2="84" y2="549" stroke="#4a4a4a" stroke-width="1.15" />
<line x1="85.05" y1="552" x2="85.05" y2="551" stroke="#4a4a4a" stroke-width="1.15" />
<line x1="93.45" y1="552" x2="93.45" y2="519.6" stroke="#4a4a4a" stroke-width="1.15" />
<line x1="94.5" y1="552" x2="94.5" y2="547" stroke="#4a4a4a" stroke-width="1.15" />
<line x1="95.55" y1="552" x2="95.55" y2="510.8" stroke="#4a4a4a" stroke-width="1.15" />
<line x1="96.6" y1="552" x2="96.6" y2="521" stroke="#4a4a4a" stroke-width="1.15" />
<line x1="97.65" y1="552" x2="97.65" y2="547" stroke="#4a4a4a" stroke-width="1.15" />
<line x1="106.05" y1="552" x2="106.05" y2="551" stroke="#4a4a4a" stroke-width="1.15" />
<line x1="108.15" y1="552" x2="108.15" y2="498.8" stroke="#4a4a4a" stroke-width="1.15" />
<line x1="109.2" y1="552" x2="109.2" y2="528.3" stroke="#4a4a4a" stroke-width="1.15" />
<line x1="110.25" y1="552" x2="110.25" y2="466.4" stroke="#4a4a4a" stroke-width="1.15" />
<line x1="111.3" y1="552" x2="111.3" y2="541" stroke="#4a4a4a" stroke-width="1.15" />
<line x1="120.75" y1="552" x2="120.75" y2="550" stroke="#4a4a4a" stroke-width="1.15" />
<line x1="122.85" y1="552" x2="122.85" y2="532.3" stroke="#4a4a4a" stroke-width="1.15" />
<line x1="123.9" y1="552" x2="123.9" y2="549" stroke="#4a4a4a" stroke-width="1.15" />
<line x1="124.95" y1="552" x2="124.95" y2="544.7" stroke="#4a4a4a" stroke-width="1.15" />
<line x1="133.35" y1="552" x2="133.35" y2="551" stroke="#4a4a4a" stroke-width="1.15" />
<line x1="137.55" y1="552" x2="137.55" y2="550" stroke="#4a4a4a" stroke-width="1.15" />
<line x1="139.65" y1="552" x2="139.65" y2="536" stroke="#4a4a4a" stroke-width="1.15" />
<line x1="140.7" y1="552" x2="140.7" y2="550" stroke="#4a4a4a" stroke-width="1.15" />
<line x1="155.4" y1="552" x2="155.4" y2="548.2" stroke="#4a4a4a" stroke-width="1.15" />
<text x="50" y="554.8" font-size="6.9" fill="#333" stroke="#333" stroke-width="0.18" text-anchor="end" font-weight="normal" font-style="normal" font-family='"Liberation Serif", "Times New Roman", serif' >0</text>
<text x="50" y="535.4" font-size="6.9" fill="#333" text-anchor="end" font-family='"Liberation Serif", "Times New Roman", serif' stroke="#333" stroke-width="0.18">2×10<tspan font-size="3.45" dy="-2.48">7</tspan></text>
<text x="50" y="516" font-size="6.9" fill="#333" text-anchor="end" font-family='"Liberation Serif", "Times New Roman", serif' stroke="#333" stroke-width="0.18">4×10<tspan font-size="3.45" dy="-2.48">7</tspan></text>
<text x="50" y="496.6" font-size="6.9" fill="#333" text-anchor="end" font-family='"Liberation Serif", "Times New Roman", serif' stroke="#333" stroke-width="0.18">6×10<tspan font-size="3.45" dy="-2.48">7</tspan></text>
<text x="50" y="477.2" font-size="6.9" fill="#333" text-anchor="end" font-family='"Liberation Serif", "Times New Roman", serif' stroke="#333" stroke-width="0.18">8×10<tspan font-size="3.45" dy="-2.48">7</tspan></text>
<text x="0" y="0" font-size="11.2" fill="#111" stroke="#111" stroke-width="0.18" text-anchor="middle" font-weight="normal" font-style="normal" font-family='"Liberation Serif", "Times New Roman", serif' letter-spacing="2.1" transform="translate(24.4,397.2) rotate(-90)">abundance</text>
<text x="0" y="0" font-size="11.2" fill="#111" stroke="#111" stroke-width="0.18" text-anchor="middle" font-weight="normal" font-style="normal" font-family='"Liberation Serif", "Times New Roman", serif' letter-spacing="2.6" transform="translate(23.8,515.5) rotate(-90)">Relative</text>
<text x="145.9" y="377" font-size="9.6" fill="#111" stroke="#111" stroke-width="0.18" text-anchor="start" font-weight="normal" font-style="normal" font-family='"Liberation Serif", "Times New Roman", serif' >Enzyme product RT=4.01</text>
<text x="145.9" y="395" font-size="9.6" fill="#111" stroke="#111" stroke-width="0.18" text-anchor="start" font-weight="normal" font-style="normal" font-family='"Liberation Serif", "Times New Roman", serif' >predict:</text>
<text x="164.2" y="404.6" font-size="9.6" fill="#111" font-family='"Liberation Serif", "Times New Roman", serif' stroke="#111" stroke-width="0.18"><tspan font-style="italic">Z</tspan>-<tspan font-style="italic">β</tspan>-ocimene</text>
<text x="144.7" y="479.8" font-size="9.6" fill="#111" stroke="#111" stroke-width="0.18" text-anchor="start" font-weight="normal" font-style="normal" font-family='"Liberation Serif", "Times New Roman", serif' >Enzyme product RT=4.09</text>
<text x="145.9" y="498" font-size="9.6" fill="#111" stroke="#111" stroke-width="0.18" text-anchor="start" font-weight="normal" font-style="normal" font-family='"Liberation Serif", "Times New Roman", serif' >predict:</text>
<text x="159.8" y="510.2" font-size="9.6" fill="#111" font-family='"Liberation Serif", "Times New Roman", serif' stroke="#111" stroke-width="0.18"><tspan font-style="italic">E</tspan>-<tspan font-style="italic">β</tspan>-ocimene</text>
<text x="64.8" y="370.8" font-size="9" fill="#222" stroke="#222" stroke-width="0.18" text-anchor="start" font-weight="normal" font-style="normal" font-family='"Liberation Serif", "Times New Roman", serif' >2</text>
<polyline points="79.9,360.7 79.9,373.9 91,380.3 102.1,373.9" fill="none" stroke="#262626" stroke-width="1.35" />
<polyline points="79.9,373.9 68.1,380.3 68.1,393.7 79.9,401.5 79.9,414.5 68.1,421.2" fill="none" stroke="#262626" stroke-width="1.35" />
<line x1="79.9" y1="414.5" x2="91" y2="421.2" stroke="#262626" stroke-width="1.35" />
<line x1="91.11" y1="377.93" x2="99.99" y2="372.81" stroke="#262626" stroke-width="1.1" />
<line x1="79.08" y1="376.62" x2="70.82" y2="381.1" stroke="#262626" stroke-width="1.1" />
<line x1="81.9" y1="403.45" x2="81.9" y2="412.55" stroke="#262626" stroke-width="1.1" />
<text x="64.8" y="473.6" font-size="9" fill="#222" stroke="#222" stroke-width="0.18" text-anchor="start" font-weight="normal" font-style="normal" font-family='"Liberation Serif", "Times New Roman", serif' >3</text>
<polyline points="91.1,464.7 79.9,471.2 79.9,483.2 90.7,489.2" fill="none" stroke="#262626" stroke-width="1.35" />
<polyline points="79.9,483.2 69.1,489.2 69.1,502.4 79.9,509.1 79.9,521.6 69.1,527.5" fill="none" stroke="#262626" stroke-width="1.35" />
<line x1="79.9" y1="521.6" x2="90.7" y2="527.5" stroke="#262626" stroke-width="1.35" />
<line x1="80.02" y1="468.82" x2="88.98" y2="463.62" stroke="#262626" stroke-width="1.1" />
<line x1="79.25" y1="485.85" x2="71.69" y2="490.05" stroke="#262626" stroke-width="1.1" />
<line x1="81.9" y1="510.98" x2="81.9" y2="519.73" stroke="#262626" stroke-width="1.1" />
<defs>
<linearGradient id="gp" x1="0" y1="0" x2="0" y2="1"><stop offset="0" stop-color="#dc60fb"/><stop offset="1" stop-color="#f6c2fd"/></linearGradient>
<linearGradient id="gr" x1="0" y1="0" x2="0" y2="1"><stop offset="0" stop-color="#ff4444"/><stop offset="1" stop-color="#ff8484"/></linearGradient>
<linearGradient id="gpl" x1="0" y1="0" x2="0" y2="1"><stop offset="0" stop-color="#e184f7"/><stop offset="1" stop-color="#efb2fa"/></linearGradient>
<linearGradient id="grl" x1="0" y1="0" x2="0" y2="1"><stop offset="0" stop-color="#ff5050"/><stop offset="1" stop-color="#ff8a8a"/></linearGradient>
</defs>
<rect x="335.1" y="444.1" width="21.3" height="106.3" fill="url(#gp)" stroke="none" stroke-width="1" />
<rect x="407.6" y="443.2" width="21" height="107.2" fill="url(#gp)" stroke="none" stroke-width="1" />
<rect x="458.6" y="401.7" width="21" height="148.7" fill="url(#gr)" stroke="none" stroke-width="1" />
<rect x="479.6" y="446.7" width="21.3" height="103.7" fill="url(#gp)" stroke="none" stroke-width="1" />
<line x1="345.7" y1="440.8" x2="345.7" y2="444.1" stroke="#c848e0" stroke-width="1.1" />
<line x1="341.7" y1="440.8" x2="349.7" y2="440.8" stroke="#c848e0" stroke-width="1.1" />
<line x1="418.1" y1="441.3" x2="418.1" y2="443.2" stroke="#c848e0" stroke-width="1.1" />
<line x1="414.1" y1="441.3" x2="422.1" y2="441.3" stroke="#c848e0" stroke-width="1.1" />
<line x1="469.1" y1="393.5" x2="469.1" y2="401.7" stroke="#e83838" stroke-width="1.1" />
<line x1="465.1" y1="393.5" x2="473.1" y2="393.5" stroke="#e83838" stroke-width="1.1" />
<line x1="490.3" y1="444.5" x2="490.3" y2="446.7" stroke="#c848e0" stroke-width="1.1" />
<line x1="486.3" y1="444.5" x2="494.3" y2="444.5" stroke="#c848e0" stroke-width="1.1" />
<rect x="298.7" y="375.9" width="215.8" height="174.5" fill="none" stroke="#222" stroke-width="1.1" />
<line x1="298.7" y1="550.4" x2="301.7" y2="550.4" stroke="#222" stroke-width="1" />
<text x="295.5" y="557.3" font-size="9" fill="#111" stroke="#111" stroke-width="0.18" text-anchor="end" font-weight="bold" font-style="normal" font-family='"Liberation Serif", "Times New Roman", serif' >0</text>
<line x1="298.7" y1="532.95" x2="300.7" y2="532.95" stroke="#222" stroke-width="1" />
<line x1="298.7" y1="515.5" x2="301.7" y2="515.5" stroke="#222" stroke-width="1" />
<text x="295.5" y="522.4" font-size="9" fill="#111" stroke="#111" stroke-width="0.18" text-anchor="end" font-weight="bold" font-style="normal" font-family='"Liberation Serif", "Times New Roman", serif' >100</text>
<line x1="298.7" y1="498.05" x2="300.7" y2="498.05" stroke="#222" stroke-width="1" />
<line x1="298.7" y1="480.6" x2="301.7" y2="480.6" stroke="#222" stroke-width="1" />
<text x="295.5" y="487.5" font-size="9" fill="#111" stroke="#111" stroke-width="0.18" text-anchor="end" font-weight="bold" font-style="normal" font-family='"Liberation Serif", "Times New Roman", serif' >200</text>
<line x1="298.7" y1="463.15" x2="300.7" y2="463.15" stroke="#222" stroke-width="1" />
<line x1="298.7" y1="445.7" x2="301.7" y2="445.7" stroke="#222" stroke-width="1" />
<text x="295.5" y="452.6" font-size="9" fill="#111" stroke="#111" stroke-width="0.18" text-anchor="end" font-weight="bold" font-style="normal" font-family='"Liberation Serif", "Times New Roman", serif' >300</text>
<line x1="298.7" y1="428.25" x2="300.7" y2="428.25" stroke="#222" stroke-width="1" />
<line x1="298.7" y1="410.8" x2="301.7" y2="410.8" stroke="#222" stroke-width="1" />
<text x="295.5" y="417.7" font-size="9" fill="#111" stroke="#111" stroke-width="0.18" text-anchor="end" font-weight="bold" font-style="normal" font-family='"Liberation Serif", "Times New Roman", serif' >400</text>
<line x1="298.7" y1="393.35" x2="300.7" y2="393.35" stroke="#222" stroke-width="1" />
<line x1="298.7" y1="375.9" x2="301.7" y2="375.9" stroke="#222" stroke-width="1" />
<text x="295.5" y="382.8" font-size="9" fill="#111" stroke="#111" stroke-width="0.18" text-anchor="end" font-weight="bold" font-style="normal" font-family='"Liberation Serif", "Times New Roman", serif' >500</text>
<line x1="511.5" y1="550.4" x2="514.5" y2="550.4" stroke="#222" stroke-width="1" />
<line x1="512.5" y1="539.49" x2="514.5" y2="539.49" stroke="#222" stroke-width="1" />
<text x="518.8" y="554.4" font-size="9" fill="#111" stroke="#111" stroke-width="0.18" text-anchor="start" font-weight="bold" font-style="normal" font-family='"Liberation Serif", "Times New Roman", serif' >0</text>
<line x1="511.5" y1="528.59" x2="514.5" y2="528.59" stroke="#222" stroke-width="1" />
<line x1="512.5" y1="517.68" x2="514.5" y2="517.68" stroke="#222" stroke-width="1" />
<text x="518.8" y="532.59" font-size="9" fill="#111" stroke="#111" stroke-width="0.18" text-anchor="start" font-weight="bold" font-style="normal" font-family='"Liberation Serif", "Times New Roman", serif' >1</text>
<line x1="511.5" y1="506.77" x2="514.5" y2="506.77" stroke="#222" stroke-width="1" />
<line x1="512.5" y1="495.87" x2="514.5" y2="495.87" stroke="#222" stroke-width="1" />
<text x="518.8" y="510.77" font-size="9" fill="#111" stroke="#111" stroke-width="0.18" text-anchor="start" font-weight="bold" font-style="normal" font-family='"Liberation Serif", "Times New Roman", serif' >2</text>
<line x1="511.5" y1="484.96" x2="514.5" y2="484.96" stroke="#222" stroke-width="1" />
<line x1="512.5" y1="474.06" x2="514.5" y2="474.06" stroke="#222" stroke-width="1" />
<text x="518.8" y="488.96" font-size="9" fill="#111" stroke="#111" stroke-width="0.18" text-anchor="start" font-weight="bold" font-style="normal" font-family='"Liberation Serif", "Times New Roman", serif' >3</text>
<line x1="511.5" y1="463.15" x2="514.5" y2="463.15" stroke="#222" stroke-width="1" />
<line x1="512.5" y1="452.24" x2="514.5" y2="452.24" stroke="#222" stroke-width="1" />
<text x="518.8" y="467.15" font-size="9" fill="#111" stroke="#111" stroke-width="0.18" text-anchor="start" font-weight="bold" font-style="normal" font-family='"Liberation Serif", "Times New Roman", serif' >4</text>
<line x1="511.5" y1="441.34" x2="514.5" y2="441.34" stroke="#222" stroke-width="1" />
<line x1="512.5" y1="430.43" x2="514.5" y2="430.43" stroke="#222" stroke-width="1" />
<text x="518.8" y="445.34" font-size="9" fill="#111" stroke="#111" stroke-width="0.18" text-anchor="start" font-weight="bold" font-style="normal" font-family='"Liberation Serif", "Times New Roman", serif' >5</text>
<line x1="511.5" y1="419.52" x2="514.5" y2="419.52" stroke="#222" stroke-width="1" />
<line x1="512.5" y1="408.62" x2="514.5" y2="408.62" stroke="#222" stroke-width="1" />
<text x="518.8" y="423.52" font-size="9" fill="#111" stroke="#111" stroke-width="0.18" text-anchor="start" font-weight="bold" font-style="normal" font-family='"Liberation Serif", "Times New Roman", serif' >6</text>
<line x1="511.5" y1="397.71" x2="514.5" y2="397.71" stroke="#222" stroke-width="1" />
<line x1="512.5" y1="386.81" x2="514.5" y2="386.81" stroke="#222" stroke-width="1" />
<text x="518.8" y="401.71" font-size="9" fill="#111" stroke="#111" stroke-width="0.18" text-anchor="start" font-weight="bold" font-style="normal" font-family='"Liberation Serif", "Times New Roman", serif' >7</text>
<line x1="511.5" y1="375.9" x2="514.5" y2="375.9" stroke="#222" stroke-width="1" />
<text x="518.8" y="379.9" font-size="9" fill="#111" stroke="#111" stroke-width="0.18" text-anchor="start" font-weight="bold" font-style="normal" font-family='"Liberation Serif", "Times New Roman", serif' >8</text>
<line x1="335.1" y1="550.4" x2="335.1" y2="553.4" stroke="#222" stroke-width="1" />
<line x1="407.2" y1="550.4" x2="407.2" y2="553.4" stroke="#222" stroke-width="1" />
<line x1="479.6" y1="550.4" x2="479.6" y2="553.4" stroke="#222" stroke-width="1" />
<text x="335.8" y="563" font-size="7.5" fill="#111" stroke="#111" stroke-width="0.18" text-anchor="middle" font-weight="bold" font-style="normal" font-family='"Liberation Serif", "Times New Roman", serif' >BS1101</text>
<text x="408.8" y="563" font-size="7.5" fill="#111" stroke="#111" stroke-width="0.18" text-anchor="middle" font-weight="bold" font-style="normal" font-family='"Liberation Serif", "Times New Roman", serif' >BS1101::pCC24</text>
<text x="481.8" y="563" font-size="7.5" fill="#111" stroke="#111" stroke-width="0.18" text-anchor="middle" font-weight="bold" font-style="normal" font-family='"Liberation Serif", "Times New Roman", serif' >BS1101::pCC24-AgTPS40</text>
<rect x="325.8" y="383.1" width="16.9" height="7.9" fill="url(#grl)" stroke="none" stroke-width="1" />
<text x="344.9" y="390.2" font-size="8.8" fill="#111" font-family='"Liberation Serif", "Times New Roman", serif' stroke="#111" stroke-width="0.18"><tspan font-style="italic">neo-allo</tspan>-ocimene</text>
<rect x="421.6" y="383.3" width="18.7" height="8.3" fill="url(#gpl)" stroke="none" stroke-width="1" />
<text x="442.5" y="390.2" font-size="8.6" fill="#111" font-family='"Liberation Serif", "Times New Roman", serif' stroke="#111" stroke-width="0.18">OD<tspan font-size="6.2" dy="2.4">600</tspan></text>
<text transform="translate(277.7,462.3) rotate(-90)" text-anchor="middle" font-size="10.4" font-weight="bold" fill="#111" font-family='"Liberation Serif", "Times New Roman", serif' stroke="#111" stroke-width="0.18"><tspan font-style="italic">neo-allo</tspan>-ocimene titer (mg/L)</text>
<text transform="translate(537,461.2) rotate(-90)" text-anchor="middle" font-size="9.6" font-weight="bold" fill="#111" font-family='"Liberation Serif", "Times New Roman", serif' stroke="#111" stroke-width="0.18">OD<tspan font-size="6.3" dy="1.6">600</tspan></text>
<line x1="287.03" y1="119.98" x2="287.03" y2="65.38" stroke="#c8c8c8" stroke-width="0.6" />
<line x1="299.28" y1="107.39" x2="299.28" y2="53.66" stroke="#c8c8c8" stroke-width="0.6" />
<line x1="311.72" y1="94.61" x2="311.72" y2="41.75" stroke="#c8c8c8" stroke-width="0.6" />
<line x1="324.16" y1="81.83" x2="324.16" y2="29.86" stroke="#c8c8c8" stroke-width="0.6" />
<line x1="336.29" y1="69.37" x2="336.29" y2="18.25" stroke="#c8c8c8" stroke-width="0.6" />
<line x1="280" y1="119.9" x2="342.2" y2="56" stroke="#c8c8c8" stroke-width="0.6" />
<line x1="280" y1="112.6" x2="342.2" y2="48.7" stroke="#c8c8c8" stroke-width="0.6" />
<line x1="280" y1="105.3" x2="342.2" y2="41.4" stroke="#c8c8c8" stroke-width="0.6" />
<line x1="280" y1="98" x2="342.2" y2="34.1" stroke="#c8c8c8" stroke-width="0.6" />
<line x1="280" y1="90.7" x2="342.2" y2="26.8" stroke="#c8c8c8" stroke-width="0.6" />
<line x1="280" y1="83.4" x2="342.2" y2="19.5" stroke="#c8c8c8" stroke-width="0.6" />
<line x1="280" y1="76.1" x2="336.55" y2="18.01" stroke="#c8c8c8" stroke-width="0.6" />
<line x1="282.2" y1="127.2" x2="344.26" y2="63.3" stroke="#c8c8c8" stroke-width="0.6" />
<line x1="292.61" y1="127.2" x2="354.03" y2="63.3" stroke="#c8c8c8" stroke-width="0.6" />
<line x1="303.02" y1="127.2" x2="363.79" y2="63.3" stroke="#c8c8c8" stroke-width="0.6" />
<line x1="313.43" y1="127.2" x2="373.55" y2="63.3" stroke="#c8c8c8" stroke-width="0.6" />
<line x1="323.84" y1="127.2" x2="383.31" y2="63.3" stroke="#c8c8c8" stroke-width="0.6" />
<line x1="334.25" y1="127.2" x2="393.07" y2="63.3" stroke="#c8c8c8" stroke-width="0.6" />
<line x1="344.66" y1="127.2" x2="402.84" y2="63.3" stroke="#c8c8c8" stroke-width="0.6" />
<line x1="355.07" y1="127.2" x2="412.6" y2="63.3" stroke="#c8c8c8" stroke-width="0.6" />
<line x1="365.48" y1="127.2" x2="422.36" y2="63.3" stroke="#c8c8c8" stroke-width="0.6" />
<line x1="375.89" y1="127.2" x2="432.12" y2="63.3" stroke="#c8c8c8" stroke-width="0.6" />
<line x1="386.3" y1="127.2" x2="441.89" y2="63.3" stroke="#c8c8c8" stroke-width="0.6" />
<polyline points="280,72.1 342.2,12.6 342.2,63.3" fill="none" stroke="#555" stroke-width="0.9" />
<polyline points="342.2,63.3 446.2,63.3 390.9,126.8 280,127.2" fill="none" stroke="#444" stroke-width="0.9" />
<line x1="280" y1="127.2" x2="342.2" y2="63.3" stroke="#666" stroke-width="0.7" />
<line x1="279.8" y1="72.1" x2="279.8" y2="127.6" stroke="#222" stroke-width="1.1" />
<line x1="276.8" y1="127.2" x2="279.8" y2="127.2" stroke="#222" stroke-width="1" />
<text x="275.6" y="129.9" font-size="7.6" fill="#222" text-anchor="end" font-family='"Liberation Serif", "Times New Roman", serif' stroke="#222" stroke-width="0.18">0.0</text>
<line x1="276.8" y1="119.9" x2="279.8" y2="119.9" stroke="#222" stroke-width="1" />
<text x="275.6" y="122.6" font-size="7.6" fill="#222" text-anchor="end" font-family='"Liberation Serif", "Times New Roman", serif' stroke="#222" stroke-width="0.18">2.0×10<tspan font-size="4.8" dy="-3">8</tspan></text>
<line x1="276.8" y1="112.6" x2="279.8" y2="112.6" stroke="#222" stroke-width="1" />
<text x="275.6" y="115.3" font-size="7.6" fill="#222" text-anchor="end" font-family='"Liberation Serif", "Times New Roman", serif' stroke="#222" stroke-width="0.18">4.0×10<tspan font-size="4.8" dy="-3">8</tspan></text>
<line x1="276.8" y1="105.3" x2="279.8" y2="105.3" stroke="#222" stroke-width="1" />
<text x="275.6" y="108" font-size="7.6" fill="#222" text-anchor="end" font-family='"Liberation Serif", "Times New Roman", serif' stroke="#222" stroke-width="0.18">6.0×10<tspan font-size="4.8" dy="-3">8</tspan></text>
<line x1="276.8" y1="98" x2="279.8" y2="98" stroke="#222" stroke-width="1" />
<text x="275.6" y="100.7" font-size="7.6" fill="#222" text-anchor="end" font-family='"Liberation Serif", "Times New Roman", serif' stroke="#222" stroke-width="0.18">8.0×10<tspan font-size="4.8" dy="-3">8</tspan></text>
<line x1="276.8" y1="90.7" x2="279.8" y2="90.7" stroke="#222" stroke-width="1" />
<text x="275.6" y="93.4" font-size="7.6" fill="#222" text-anchor="end" font-family='"Liberation Serif", "Times New Roman", serif' stroke="#222" stroke-width="0.18">1.0×10<tspan font-size="4.8" dy="-3">9</tspan></text>
<line x1="276.8" y1="83.4" x2="279.8" y2="83.4" stroke="#222" stroke-width="1" />
<text x="275.6" y="86.1" font-size="7.6" fill="#222" text-anchor="end" font-family='"Liberation Serif", "Times New Roman", serif' stroke="#222" stroke-width="0.18">1.2×10<tspan font-size="4.8" dy="-3">9</tspan></text>
<line x1="276.8" y1="76.1" x2="279.8" y2="76.1" stroke="#222" stroke-width="1" />
<text x="275.6" y="78.8" font-size="7.6" fill="#222" text-anchor="end" font-family='"Liberation Serif", "Times New Roman", serif' stroke="#222" stroke-width="0.18">1.4×10<tspan font-size="4.8" dy="-3">9</tspan></text>
<text x="0" y="0" font-size="8.8" fill="#222" stroke="#222" stroke-width="0.18" text-anchor="middle" font-weight="normal" font-style="normal" font-family='"Liberation Serif", "Times New Roman", serif' transform="translate(247.6,99.7) rotate(-90)">Intensity</text>
<line x1="279.3" y1="127.2" x2="390.9" y2="127.2" stroke="#222" stroke-width="1.1" />
<line x1="282.2" y1="127.2" x2="282.2" y2="130" stroke="#222" stroke-width="1" />
<text x="282.2" y="138.1" font-size="7.0" fill="#222" stroke="#222" stroke-width="0.18" text-anchor="middle" font-weight="normal" font-style="normal" font-family='"Liberation Serif", "Times New Roman", serif' >3.9</text>
<line x1="292.61" y1="127.2" x2="292.61" y2="130" stroke="#222" stroke-width="1" />
<text x="292.61" y="138.1" font-size="7.0" fill="#222" stroke="#222" stroke-width="0.18" text-anchor="middle" font-weight="normal" font-style="normal" font-family='"Liberation Serif", "Times New Roman", serif' >4.0</text>
<line x1="303.02" y1="127.2" x2="303.02" y2="130" stroke="#222" stroke-width="1" />
<text x="303.02" y="138.1" font-size="7.0" fill="#222" stroke="#222" stroke-width="0.18" text-anchor="middle" font-weight="normal" font-style="normal" font-family='"Liberation Serif", "Times New Roman", serif' >4.1</text>
<line x1="313.43" y1="127.2" x2="313.43" y2="130" stroke="#222" stroke-width="1" />
<text x="313.43" y="138.1" font-size="7.0" fill="#222" stroke="#222" stroke-width="0.18" text-anchor="middle" font-weight="normal" font-style="normal" font-family='"Liberation Serif", "Times New Roman", serif' >4.2</text>
<line x1="323.84" y1="127.2" x2="323.84" y2="130" stroke="#222" stroke-width="1" />
<text x="323.84" y="138.1" font-size="7.0" fill="#222" stroke="#222" stroke-width="0.18" text-anchor="middle" font-weight="normal" font-style="normal" font-family='"Liberation Serif", "Times New Roman", serif' >4.3</text>
<line x1="334.25" y1="127.2" x2="334.25" y2="130" stroke="#222" stroke-width="1" />
<text x="334.25" y="138.1" font-size="7.0" fill="#222" stroke="#222" stroke-width="0.18" text-anchor="middle" font-weight="normal" font-style="normal" font-family='"Liberation Serif", "Times New Roman", serif' >4.4</text>
<line x1="344.66" y1="127.2" x2="344.66" y2="130" stroke="#222" stroke-width="1" />
<text x="344.66" y="138.1" font-size="7.0" fill="#222" stroke="#222" stroke-width="0.18" text-anchor="middle" font-weight="normal" font-style="normal" font-family='"Liberation Serif", "Times New Roman", serif' >4.5</text>
<line x1="355.07" y1="127.2" x2="355.07" y2="130" stroke="#222" stroke-width="1" />
<text x="355.07" y="138.1" font-size="7.0" fill="#222" stroke="#222" stroke-width="0.18" text-anchor="middle" font-weight="normal" font-style="normal" font-family='"Liberation Serif", "Times New Roman", serif' >4.6</text>
<line x1="365.48" y1="127.2" x2="365.48" y2="130" stroke="#222" stroke-width="1" />
<text x="365.48" y="138.1" font-size="7.0" fill="#222" stroke="#222" stroke-width="0.18" text-anchor="middle" font-weight="normal" font-style="normal" font-family='"Liberation Serif", "Times New Roman", serif' >4.7</text>
<line x1="375.89" y1="127.2" x2="375.89" y2="130" stroke="#222" stroke-width="1" />
<text x="375.89" y="138.1" font-size="7.0" fill="#222" stroke="#222" stroke-width="0.18" text-anchor="middle" font-weight="normal" font-style="normal" font-family='"Liberation Serif", "Times New Roman", serif' >4.8</text>
<line x1="386.3" y1="127.2" x2="386.3" y2="130" stroke="#222" stroke-width="1" />
<text x="386.3" y="138.1" font-size="7.0" fill="#222" stroke="#222" stroke-width="0.18" text-anchor="middle" font-weight="normal" font-style="normal" font-family='"Liberation Serif", "Times New Roman", serif' >4.9</text>
<text x="335.3" y="150.9" font-size="9.2" fill="#222" stroke="#222" stroke-width="0.18" text-anchor="middle" font-weight="normal" font-style="normal" font-family='"Liberation Serif", "Times New Roman", serif' >RT</text>
<path d="M287.6,119.4 L332.5,119.4 L333.5,117.8 L334.5,119.4 L344,119.4 L345,117.8 L346,119.4 L359.7,119.4 L360.7,117.8 L361.7,119.4 L397.34,119.4" fill="none" stroke="#8c8c8c" stroke-width="1.0" />
<line x1="396.34" y1="119.9" x2="402.54" y2="119.9" stroke="#222" stroke-width="1" />
<path d="M299.6,106.6 L355.4,106.6 L356.4,105 L357.4,106.6 L371.7,106.6 L372.7,105 L373.7,106.6 L408.49,106.6" fill="none" stroke="#9494f6" stroke-width="1.0" />
<line x1="407.49" y1="107.1" x2="413.69" y2="107.1" stroke="#222" stroke-width="1" />
<path d="M312.3,93.6 L355.4,93.6 L356.4,92 L357.4,93.6 L368.5,93.6 L369.5,92 L370.5,93.6 L419.81,93.6" fill="none" stroke="#8ede8e" stroke-width="1.0" />
<line x1="418.81" y1="94.1" x2="425.01" y2="94.1" stroke="#222" stroke-width="1" />
<path d="M324.9,80.6 L336.9,80.6 L337.5,70.2 L338.2,70.2 L338.7,80.1 L397.0,80.1 L397.7,76.6 L398.1,34.6 L398.6,76.6 L399.5,80 L431.13,80.6" fill="none" stroke="#f7a9a9" stroke-width="1.0" />
<line x1="430.13" y1="81.1" x2="436.33" y2="81.1" stroke="#222" stroke-width="1" />
<path d="M337.8,68.9 L407.8,68.9 L408.4,64.9 L408.8,9.9 L409.3,64.9 L410.2,68.5 L441.32,68.9" fill="none" stroke="#ea9ced" stroke-width="1.0" />
<line x1="440.32" y1="69.4" x2="446.52" y2="69.4" stroke="#222" stroke-width="1" />
<text x="405.9" y="123.4" font-size="8.8" fill="#222" stroke="#222" stroke-width="0.18" text-anchor="start" font-weight="normal" font-style="normal" font-family='"Liberation Serif", "Times New Roman", serif' >ethyl acetate</text>
<text x="417.5" y="110.1" font-size="8.8" fill="#222" stroke="#222" stroke-width="0.18" text-anchor="start" font-weight="normal" font-style="normal" font-family='"Liberation Serif", "Times New Roman", serif' >BS1101</text>
<text x="428" y="97.4" font-size="8.8" fill="#222" stroke="#222" stroke-width="0.18" text-anchor="start" font-weight="normal" font-style="normal" font-family='"Liberation Serif", "Times New Roman", serif' >BS1101::pCC24</text>
<text x="438.7" y="85" font-size="8.8" fill="#222" stroke="#222" stroke-width="0.18" text-anchor="start" font-weight="normal" font-style="normal" font-family='"Liberation Serif", "Times New Roman", serif' >BS1101::pCC24-AgTPS40</text>
<text x="451.8" y="72.3" font-size="8.8" fill="#222" font-family='"Liberation Serif", "Times New Roman", serif' stroke="#222" stroke-width="0.18"><tspan font-style="italic">neo-allo</tspan>-ocimene standard</text>
<text x="323" y="62.5" font-size="8" fill="#222" stroke="#222" stroke-width="0.18" text-anchor="start" font-weight="normal" font-style="normal" font-family='"Liberation Serif", "Times New Roman", serif' >1</text>
<text x="335.4" y="45.8" font-size="8" fill="#222" stroke="#222" stroke-width="0.18" text-anchor="start" font-weight="normal" font-style="normal" font-family='"Liberation Serif", "Times New Roman", serif' >2</text>
<text x="350.5" y="62.5" font-size="8" fill="#222" stroke="#222" stroke-width="0.18" text-anchor="start" font-weight="normal" font-style="normal" font-family='"Liberation Serif", "Times New Roman", serif' >3</text>
<text x="415.3" y="39.8" font-size="8" fill="#222" stroke="#222" stroke-width="0.18" text-anchor="start" font-weight="normal" font-style="normal" font-family='"Liberation Serif", "Times New Roman", serif' >4</text>
<line x1="324.6" y1="64.3" x2="331.8" y2="76.8" stroke="#222" stroke-width="1" />
<line x1="337.3" y1="47.9" x2="337.3" y2="65.4" stroke="#222" stroke-width="1.3" />
<line x1="351.4" y1="64" x2="345.5" y2="77" stroke="#222" stroke-width="1" />
<line x1="401.3" y1="58.5" x2="414.3" y2="40.8" stroke="#222" stroke-width="1" />
<defs>
<linearGradient id="gcy" x1="0" y1="0" x2="0" y2="1"><stop offset="0" stop-color="#7fd6d6"/><stop offset="1" stop-color="#16a0a0"/></linearGradient>
<linearGradient id="ggr" x1="0" y1="0" x2="0" y2="1"><stop offset="0" stop-color="#b6dc8c"/><stop offset="1" stop-color="#3f9a2c"/></linearGradient>
<linearGradient id="gor" x1="0" y1="0" x2="1" y2="0"><stop offset="0" stop-color="#fdf0c8"/><stop offset="1" stop-color="#f5b02a"/></linearGradient>
<linearGradient id="ggray" x1="0" y1="0" x2="0" y2="1"><stop offset="0" stop-color="#c8c8c8"/><stop offset="0.5" stop-color="#9a9a9a"/><stop offset="1" stop-color="#b8b8b8"/></linearGradient>
<linearGradient id="gcm" x1="0" y1="0" x2="0" y2="1"><stop offset="0" stop-color="#fbe0a0"/><stop offset="0.5" stop-color="#f3c366"/><stop offset="1" stop-color="#f8d890"/></linearGradient>
<linearGradient id="gtet" x1="0" y1="0" x2="0" y2="1"><stop offset="0" stop-color="#b4ecec"/><stop offset="0.5" stop-color="#6cc8c8"/><stop offset="1" stop-color="#a8e4e4"/></linearGradient>
<linearGradient id="gag" x1="0" y1="0" x2="0" y2="1"><stop offset="0" stop-color="#a8dc60"/><stop offset="0.5" stop-color="#6cb82c"/><stop offset="1" stop-color="#98d050"/></linearGradient>
<radialGradient id="gglow" cx="0.4" cy="0.5" r="0.6"><stop offset="0" stop-color="#8cd862"/><stop offset="0.7" stop-color="#b2ea8e"/><stop offset="1" stop-color="#e8fbe0" stop-opacity="0"/></radialGradient>
</defs>
<path d="M23.8,50 L23.8,103 Q23.8,108.2 29.5,108.2 L108,108.2 Q112,108.2 112,104 L112,94.8" fill="none" stroke="#333" stroke-width="1.2" />
<path d="M23.8,51 L26.8,47.0 L107.8,47.0 Q112.1,47.0 112.1,51.5 L112.1,57.7" fill="none" stroke="#333" stroke-width="1.2" />
<polygon points="33.8,44 42.6,44 42.6,40.6 48.9,47.1 42.6,53.6 42.6,50.2 33.8,50.2" fill="#f06a80" stroke="#3a2a2a" stroke-width="0.9" stroke-linejoin="miter"/>
<polygon points="54,44 62.6,44 62.6,40.6 68.9,47.1 62.6,53.6 62.6,50.2 54,50.2" fill="#f06a80" stroke="#3a2a2a" stroke-width="0.9" stroke-linejoin="miter"/>
<polygon points="71.6,44 79.7,44 79.7,40.6 86,47.1 79.7,53.6 79.7,50.2 71.6,50.2" fill="#f06a80" stroke="#3a2a2a" stroke-width="0.9" stroke-linejoin="miter"/>
<polygon points="89.2,44 96.6,44 96.6,40.6 102.9,47.1 96.6,53.6 96.6,50.2 89.2,50.2" fill="#f06a80" stroke="#3a2a2a" stroke-width="0.9" stroke-linejoin="miter"/>
<polygon points="23.9,50.1 30.2,55.7 27.35,55.7 27.35,62 20.45,62 20.45,55.7 17.6,55.7" fill="#f06a80" stroke="#3a2a2a" stroke-width="0.9" stroke-linejoin="miter"/>
<polygon points="23.9,66.5 30.2,72.1 27.35,72.1 27.35,78.3 20.45,78.3 20.45,72.1 17.6,72.1" fill="#f06a80" stroke="#3a2a2a" stroke-width="0.9" stroke-linejoin="miter"/>
<polygon points="23.9,83.4 30.2,89 27.35,89 27.35,96.3 20.45,96.3 20.45,89 17.6,89" fill="#f06a80" stroke="#3a2a2a" stroke-width="0.9" stroke-linejoin="miter"/>
<path d="M30.7,47 L30.7,39.5 Q30.7,38.2 32,38.2 L34,38.2" fill="none" stroke="#8ccc5c" stroke-width="1.5" />
<path d="M24.4,97.6 Q24.6,99.6 26.8,99.6 L31.8,99.6 Q33.2,99.6 33.4,97.4" fill="none" stroke="#8ccc5c" stroke-width="1.5" />
<path d="M53.5,108.2 L53.5,100.6 Q53.5,98.6 55.5,98.6 L57.6,98.6" fill="none" stroke="#8ccc5c" stroke-width="1.5" />
<polygon points="33.6,104.9 45.6,104.9 45.6,101.8 52.3,108.2 45.6,114.6 45.6,111.5 33.6,111.5" fill="url(#ggray)" stroke="#555" stroke-width="0.8" stroke-linejoin="miter"/>
<text x="39.5" y="110.2" font-size="5" fill="#333" stroke="#333" stroke-width="0.18" text-anchor="middle" font-weight="normal" font-style="normal" font-family='"Liberation Serif", "Times New Roman", serif' >lacI</text>
<polygon points="56,105.1 70.3,105.1 70.3,101.5 76.8,108 70.3,114.5 70.3,110.9 56,110.9" fill="url(#gcm)" stroke="#6a5a30" stroke-width="0.8" stroke-linejoin="miter"/>
<text x="63.3" y="110" font-size="5.4" fill="#333" stroke="#333" stroke-width="0.18" text-anchor="middle" font-weight="normal" font-style="italic" font-family='"Liberation Serif", "Times New Roman", serif' >cmR</text>
<rect x="80" y="102.8" width="19.7" height="8.6" fill="#fbf56a" stroke="#5a5530" stroke-width="0.8" />
<text x="89.9" y="109.6" font-size="6.4" fill="#222" stroke="#222" stroke-width="0.18" text-anchor="middle" font-weight="normal" font-style="normal" font-family='"Liberation Serif", "Times New Roman", serif' >p15A</text>
<text x="33.0" y="32.5" font-size="5.8" font-weight="bold" fill="#111" font-family='"Liberation Serif", "Times New Roman", serif' stroke="#111" stroke-width="0.18">P<tspan font-size="3.4" dy="1">trc</tspan></text>
<text x="34.5" y="97.7" font-size="5.8" font-weight="bold" fill="#111" font-family='"Liberation Serif", "Times New Roman", serif' stroke="#111" stroke-width="0.18">P<tspan font-size="4.1" dy="1.4">lacUV5</tspan></text>
<text x="59.7" y="98.1" font-size="5.8" font-weight="bold" fill="#111" font-family='"Liberation Serif", "Times New Roman", serif' stroke="#111" stroke-width="0.18">P<tspan font-size="4.1" dy="1.4">cat</tspan></text>
<text x="55" y="36.9" font-size="6.6" fill="#333" stroke="#333" stroke-width="0.18" text-anchor="start" font-weight="normal" font-style="normal" font-family='"Liberation Serif", "Times New Roman", serif' >Module II</text>
<text x="0" y="0" font-size="6.7" fill="#333" stroke="#333" stroke-width="0.18" text-anchor="middle" font-weight="normal" font-style="normal" font-family='"Liberation Serif", "Times New Roman", serif' transform="translate(16.3,79.2) rotate(-90)">Module I</text>
<text x="67" y="64.9" font-size="10.2" fill="#4f77d1" stroke="#4f77d1" stroke-width="0.18" text-anchor="middle" font-weight="normal" font-style="normal" font-family='"Liberation Serif", "Times New Roman", serif' >pCC24</text>
<text x="67.2" y="76.9" font-size="10.2" fill="#4f77d1" stroke="#4f77d1" stroke-width="0.18" text-anchor="middle" font-weight="normal" font-style="normal" font-family='"Liberation Serif", "Times New Roman", serif' >precursor</text>
<text x="68.1" y="89.1" font-size="10.2" fill="#4f77d1" stroke="#4f77d1" stroke-width="0.18" text-anchor="middle" font-weight="normal" font-style="normal" font-family='"Liberation Serif", "Times New Roman", serif' >plasmid</text>
<line x1="113.9" y1="57.3" x2="127.3" y2="50" stroke="#f03030" stroke-width="1.1" stroke-dasharray="1.6,1.1"/>
<line x1="127.7" y1="49.1" x2="171.6" y2="49.1" stroke="#333" stroke-width="1.1" />
<line x1="180.2" y1="49.1" x2="193.9" y2="49.1" stroke="#333" stroke-width="1.1" />
<line x1="169.3" y1="41.6" x2="171.6" y2="49.1" stroke="#333" stroke-width="1.0" />
<line x1="182" y1="41.6" x2="180.2" y2="49.1" stroke="#333" stroke-width="1.0" />
<path d="M137.3,49 L137.3,44.3 Q137.3,43 138.6,43 L139.8,43" fill="none" stroke="#8ccc5c" stroke-width="1.4" />
<text x="127.5" y="38.4" font-size="5.2" font-weight="bold" fill="#111" font-family='"Liberation Serif", "Times New Roman", serif' stroke="#111" stroke-width="0.18">P<tspan font-size="3" dy="0.9">trc</tspan></text>
<polygon points="139.7,46.6 155.7,46.6 155.7,44.5 160.7,49.4 155.7,54.3 155.7,52.2 139.7,52.2" fill="url(#gtet)" stroke="#3a5a5a" stroke-width="0.8" stroke-linejoin="miter"/>
<text x="147.5" y="51.2" font-size="4.4" fill="#2a6a78" stroke="#2a6a78" stroke-width="0.18" text-anchor="middle" font-weight="normal" font-style="normal" font-family='"Liberation Serif", "Times New Roman", serif' letter-spacing="0.6">tetR</text>
<rect x="158.4" y="29.7" width="31" height="11.2" fill="none" stroke="#f03030" stroke-width="0.9" stroke-dasharray="1.6,1"/>
<polygon points="168.4,33.4 178.5,33.4 178.5,31.1 183.9,36 178.5,40.9 178.5,38.6 168.4,38.6" fill="url(#gag)" stroke="#3a5a1a" stroke-width="0.8" stroke-linejoin="miter"/>
<text x="157.6" y="25.9" font-size="8.5" fill="#f02828"  text-anchor="start" font-weight="normal" font-style="normal" font-family='"Liberation Serif", "Times New Roman", serif' stroke="#f02828" stroke-width="0.25">AgTPS40</text>
<polygon points="145,56.2 149.5,56.2 149.5,68 151.2,68 147.2,72.6 142.7,68 145,68" fill="url(#gcy)" stroke="none" stroke-width="0" />
<text x="154.1" y="66.7" font-size="8.9" fill="#7fd3cb" stroke="#7fd3cb" stroke-width="0.18" text-anchor="start" font-weight="normal" font-style="normal" font-family='"Liberation Serif", "Times New Roman", serif' >Transformation</text>
<g fill="none" stroke="#c9a7a0" stroke-width="0.5"><path d="M165.5,82.5 q4,-2 8,0 t8,0 t8,-1 t8,0"/><path d="M165.5,85 q4,2 8,0 t8,1 t8,0 t8,2"/><path d="M164,87.5 q4,2 8,1 t8,2 t8,0"/><path d="M161,79 q4,-3 8,-2 t8,-2 t7,1"/><path d="M162,89.5 q3,3 7,3 t7,1"/><path d="M150,90 q3,2 6,2 t6,1"/></g>
<rect x="131.5" y="78.1" width="34.4" height="12" fill="#fae2a4" stroke="#b98a50" stroke-width="0.9" rx="6" ry="6"/>
<rect x="135" y="81.5" width="27" height="5.5" fill="#f8dc98" stroke="#e6c47a" stroke-width="0.5" rx="2.5" ry="2.5" stroke-dasharray="0.8,0.8"/>
<polygon points="145.1,95.9 149.3,95.9 149.3,107.8 151,107.8 147.1,112.6 143,107.8 145.1,107.8" fill="url(#ggr)" stroke="none" stroke-width="0" />
<text x="157.2" y="106.3" font-size="8.8" fill="#a6d784" stroke="#a6d784" stroke-width="0.18" text-anchor="start" font-weight="normal" font-style="normal" font-family='"Liberation Serif", "Times New Roman", serif' >Expression</text>
<filter id="fb" x="-20%" y="-40%" width="140%" height="180%"><feGaussianBlur stdDeviation="1.1"/></filter>
<g filter="url(#fb)"><rect x="129.5" y="113" width="22" height="13.5" rx="4" fill="#a0e67e"/><path d="M150,113.5 L166,114.5 L169,116.5 L168,121 L169.5,124 L163,126 L150,126.5 Z" fill="#b0ee90"/></g>
<g stroke="#8fe06a" stroke-width="0.9" opacity="0.9"><line x1="150" y1="116" x2="167" y2="115.5"/><line x1="151" y1="119.5" x2="169" y2="119"/><line x1="150" y1="123" x2="168" y2="123.5"/><line x1="131" y1="113.5" x2="145" y2="113"/><line x1="131" y1="126.2" x2="147" y2="126.5"/></g>
<rect x="130.8" y="114.6" width="18.6" height="4.4" fill="#f4e2a8" stroke="#d8a868" stroke-width="0.6" rx="2.2" opacity="0.55"/>
<rect x="130.6" y="119.8" width="18.8" height="5.4" fill="#fbe9b8" stroke="#e0a050" stroke-width="0.8" rx="2.7"/>
<rect x="173.3" y="119.2" width="23.5" height="2.2" fill="url(#gor)" stroke="none" stroke-width="1" />
<polygon points="196.5,117.6 200.6,120.3 196.5,123" fill="#f5b02a" stroke="none" stroke-width="0" />
<text x="174.8" y="129.1" font-size="6.8" fill="#f6cc80" stroke="#f6cc80" stroke-width="0.18" text-anchor="start" font-weight="normal" font-style="normal" font-family='"Liberation Serif", "Times New Roman", serif' >Analysis</text>
<path d="M211.9,116.4 L211.9,118.4 L208.35,128 L219.85,128 L216.3,118.4 L216.3,116.4 Z" fill="#fdfdfd" stroke="#8a8a8a" stroke-width="0.8" />
<polygon points="209.64,125.6 218.56,125.6 219.35,127.5 208.85,127.5" fill="#faeaa0" stroke="none" stroke-width="0" />
<line x1="208.05" y1="128" x2="220.15" y2="128" stroke="#7a7a7a" stroke-width="1.1" />
<rect x="211.4" y="108" width="5.4" height="8.4" fill="#d6d6d6" stroke="#6e6e6e" stroke-width="0.8" />
<line x1="212.9" y1="109" x2="212.9" y2="115.4" stroke="#9a9a9a" stroke-width="0.5" />
<line x1="214.1" y1="109" x2="214.1" y2="115.4" stroke="#9a9a9a" stroke-width="0.5" />
<line x1="215.3" y1="109" x2="215.3" y2="115.4" stroke="#9a9a9a" stroke-width="0.5" />
<path d="M204.6,117.5 L204.6,119.5 L200.8,129.5 L212.8,129.5 L209,119.5 L209,117.5 Z" fill="#fdfdfd" stroke="#8a8a8a" stroke-width="0.8" />
<polygon points="202.11,127.1 211.49,127.1 212.3,129 201.3,129" fill="#faeaa0" stroke="none" stroke-width="0" />
<line x1="200.5" y1="129.5" x2="213.1" y2="129.5" stroke="#7a7a7a" stroke-width="1.1" />
<rect x="204.1" y="109.5" width="5.4" height="8" fill="#d6d6d6" stroke="#6e6e6e" stroke-width="0.8" />
<line x1="205.6" y1="110.5" x2="205.6" y2="116.5" stroke="#9a9a9a" stroke-width="0.5" />
<line x1="206.8" y1="110.5" x2="206.8" y2="116.5" stroke="#9a9a9a" stroke-width="0.5" />
<line x1="208" y1="110.5" x2="208" y2="116.5" stroke="#9a9a9a" stroke-width="0.5" />
<path d="M220.8,117.5 L220.8,119.5 L217.4,129.5 L228.6,129.5 L225.2,119.5 L225.2,117.5 Z" fill="#fdfdfd" stroke="#8a8a8a" stroke-width="0.8" />
<polygon points="218.62,127.1 227.38,127.1 228.1,129 217.9,129" fill="#faeaa0" stroke="none" stroke-width="0" />
<line x1="217.1" y1="129.5" x2="228.9" y2="129.5" stroke="#7a7a7a" stroke-width="1.1" />
<rect x="220.3" y="109.8" width="5.4" height="7.7" fill="#d6d6d6" stroke="#6e6e6e" stroke-width="0.8" />
<line x1="221.8" y1="110.8" x2="221.8" y2="116.5" stroke="#9a9a9a" stroke-width="0.5" />
<line x1="223" y1="110.8" x2="223" y2="116.5" stroke="#9a9a9a" stroke-width="0.5" />
<line x1="224.2" y1="110.8" x2="224.2" y2="116.5" stroke="#9a9a9a" stroke-width="0.5" />
</svg>
</body></html>
